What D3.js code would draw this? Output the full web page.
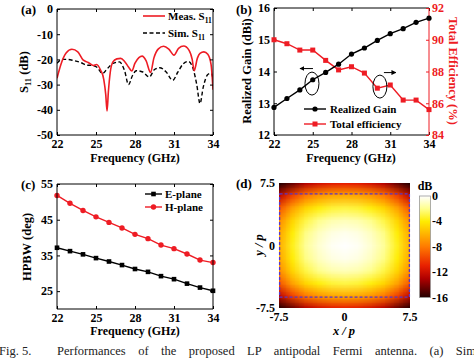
<!DOCTYPE html>
<html><head><meta charset="utf-8">
<script src="https://cdn.jsdelivr.net/npm/d3@7"></script>
<style>body{margin:0;background:#fff}svg{display:block}</style>
</head><body>
<svg id="chart" width="474" height="361"></svg>
<script>
// ---------- DATA ----------
// (a) S11
const measFreq = [22,22.3,22.7,23.15,23.6,24.0,24.4,24.8,25.05,25.35,25.6,25.75,25.85,25.95,26.1,26.3,26.6,26.9,27.2,27.5,27.75,28.0,28.3,28.55,28.85,29.2,29.45,29.8,30.2,30.6,31.0,31.35,31.75,32.15,32.4,32.55,32.8,33.0,33.3,33.6,33.85,34];
const measS11 = [-27.5,-22,-17.5,-16,-17,-20.2,-21.2,-22.4,-22,-24.2,-28,-34,-40.5,-33,-25,-21,-19.8,-19.6,-20.8,-23,-24.6,-21.5,-19.3,-18.7,-20.5,-25.2,-19.5,-15.8,-14.8,-15.9,-18.3,-15.6,-14.7,-16.3,-20,-24.5,-19.5,-17.6,-17,-18,-22,-32];
const simFreq = [22,22.4,22.8,23.3,23.8,24.3,24.7,25.1,25.5,25.9,26.3,26.8,27.2,27.5,27.8,28.1,28.6,29.1,29.5,29.9,30.4,30.9,31.3,31.7,32.1,32.5,32.75,33.0,33.25,33.6,33.85,34];
const simS11 = [-21.5,-20,-20,-20.5,-21.2,-22.3,-22.4,-23.2,-25.6,-23.5,-21.6,-21,-24.5,-30,-26.5,-24.5,-25,-27,-24,-23.3,-25,-28.3,-25,-21.8,-20.8,-24.2,-30,-37.5,-31,-26,-25.5,-27.5];
const freqTicks = [22,25,28,31,34];
const s11Ticks = [0,-10,-20,-30,-40,-50];
// (b) gain / efficiency
const freqPts = [22,23,24,25,26,27,28,29,30,31,32,33,34];
const gainVals = [12.87,13.15,13.42,13.74,13.97,14.23,14.55,14.74,14.98,15.19,15.35,15.55,15.68];
const effVals = [90.0,89.75,89.35,89.35,88.7,88.1,88.3,87.9,86.95,87.15,86.2,86.2,85.6];
const gainTicks = [12,13,14,15,16];
const effTicks = [84,86,88,90,92];
// (c) HPBW
const ePlane = [37.15,36.2,35.3,34.25,33.3,32.3,31.2,30.4,29.2,28.35,27.1,26.0,25.1];
const hPlane = [51.8,49.6,47.6,45.8,44.25,42.7,40.9,39.7,37.9,36.9,35.4,33.7,33.0];
const hpbwTicks = [25,35,45,55];
// (d) aperture field (dB), rows y/p = 7.5 .. -7.5, cols x/p = -7.5 .. 7.5
const gridCoords = [-7.5,-6,-4.5,-3,-1.5,0,1.5,3,4.5,6,7.5];
const fieldDb = [
 [-16,-14.5,-12.8,-11.8,-11.2,-11,-11.2,-11.8,-12.8,-14.5,-16],
 [-12.5,-9.8,-8,-7,-6.4,-6.2,-6.4,-7,-8,-9.8,-12.5],
 [-9.2,-6.6,-4.8,-3.8,-3.2,-3,-3.2,-3.8,-4.8,-6.6,-9.2],
 [-7.4,-4.8,-3,-2,-1.4,-1.2,-1.4,-2,-3,-4.8,-7.4],
 [-6.5,-3.9,-2.1,-1.1,-0.5,-0.3,-0.5,-1.1,-2.1,-3.9,-6.5],
 [-6.2,-3.6,-1.8,-0.8,-0.2,0,-0.2,-0.8,-1.8,-3.6,-6.2],
 [-6.5,-3.9,-2.1,-1.1,-0.5,-0.3,-0.5,-1.1,-2.1,-3.9,-6.5],
 [-7.4,-4.8,-3,-2,-1.4,-1.2,-1.4,-2,-3,-4.8,-7.4],
 [-9.2,-6.6,-4.8,-3.8,-3.2,-3,-3.2,-3.8,-4.8,-6.6,-9.2],
 [-12.5,-9.8,-8,-7,-6.4,-6.2,-6.4,-7,-8,-9.8,-12.5],
 [-16,-14.5,-12.8,-11.8,-11.2,-11,-11.2,-11.8,-12.8,-14.5,-16]
];
const apertureTicks = [-7.5,0,7.5];
const dashedBoxY = [-6.2,6.2];
const colorbarTicks = [0,-4,-8,-12,-16];
const captionLead = "Fig. 5.";
const captionText = "Performances of the proposed LP antipodal Fermi antenna. (a) Sim";

// ---------- STYLE ----------
const FONT = "'Liberation Serif','Times New Roman',serif";
const RED = "#ee1c24";
const svg = d3.select("#chart").style("font-family", FONT);
const fmt = d => String(d);

function styleAxis(g, color, size) {
  g.select(".domain").remove();
  g.selectAll("text").attr("font-family", FONT).attr("font-weight", "bold")
    .attr("font-size", size || 12).attr("fill", color || "#000");
  g.selectAll("line").attr("stroke", color || "#000");
  g.attr("font-family", null).attr("font-size", null);
}
function boxAxes(x, y, xt, yt, opt = {}) {
  const [x0, x1] = x.range(), [y0, y1] = y.range(); // y0 bottom, y1 top
  svg.append("g").attr("transform", `translate(0,${y0})`)
    .call(d3.axisBottom(x).tickValues(xt).tickFormat(fmt).tickSize(-3).tickPadding(4))
    .call(g => styleAxis(g));
  svg.append("g").attr("transform", `translate(0,${y1})`)
    .call(d3.axisTop(x).tickValues(xt).tickSize(-3).tickFormat(""))
    .call(g => styleAxis(g));
  svg.append("g").attr("transform", `translate(${x0},0)`)
    .call(d3.axisLeft(y).tickValues(yt).tickFormat(fmt).tickSize(-3).tickPadding(4))
    .call(g => styleAxis(g));
  if (!opt.noRight) {
    svg.append("g").attr("transform", `translate(${x1},0)`)
      .call(d3.axisRight(y).tickValues(yt).tickSize(-3).tickFormat(""))
      .call(g => styleAxis(g));
  }
  svg.append("path").attr("fill", "none").attr("stroke", "#000").attr("stroke-width", 1)
    .attr("d", `M${x1},${y1}H${x0}V${y0}H${x1}` + (opt.noRight ? "" : `V${y1}`));
}
function text(x, y, s, o = {}) {
  const t = svg.append("text").attr("x", x).attr("y", y).text(s)
    .attr("font-weight", o.weight || "bold").attr("font-size", o.size || 12.5)
    .attr("text-anchor", o.anchor || "start").attr("fill", o.fill || "#000");
  if (o.rotate) t.attr("transform", `rotate(${o.rotate},${x},${y})`);
  if (o.italic) t.attr("font-style", "italic");
  return t;
}

// ---------- (a) ----------
const xA = d3.scaleLinear([22, 34], [57, 213]);
const yA = d3.scaleLinear([-50, 0], [135, 9]);
svg.append("clipPath").attr("id", "clipA").append("rect")
  .attr("x", 57).attr("y", 9).attr("width", 156).attr("height", 126);
const lineA = d3.line().curve(d3.curveMonotoneX).x(d => xA(d[0])).y(d => yA(d[1]));
svg.append("path").attr("clip-path", "url(#clipA)")
  .attr("d", lineA(simFreq.map((f, i) => [f, simS11[i]])))
  .attr("fill", "none").attr("stroke", "#000").attr("stroke-width", 1.4).attr("stroke-dasharray", "4,2.5");
svg.append("path").attr("clip-path", "url(#clipA)")
  .attr("d", lineA(measFreq.map((f, i) => [f, measS11[i]])))
  .attr("fill", "none").attr("stroke", RED).attr("stroke-width", 1.6);
boxAxes(xA, yA, freqTicks, s11Ticks);
text(135, 161.5, "Frequency (GHz)", { anchor: "middle", size: 12 });
{
  const t = text(28, 72, "S", { anchor: "middle", rotate: -90 });
  t.append("tspan").attr("font-size", 8.5).attr("dy", 3).text("11");
  t.append("tspan").attr("dy", -3).text(" (dB)");
}
text(21, 14, "(a)", { size: 13 });
// legend (a)
svg.append("line").attr("x1", 143).attr("x2", 165).attr("y1", 16).attr("y2", 16).attr("stroke", RED).attr("stroke-width", 1.6);
{
  const t = text(168, 20, "Meas. S", { size: 11 });
  t.append("tspan").attr("font-size", 7.5).attr("dy", 2.5).text("11");
}
svg.append("line").attr("x1", 143).attr("x2", 165).attr("y1", 33).attr("y2", 33).attr("stroke", "#000").attr("stroke-width", 1.4).attr("stroke-dasharray", "4,2.5");
{
  const t = text(168, 37, "Sim. S", { size: 11 });
  t.append("tspan").attr("font-size", 7.5).attr("dy", 2.5).text("11");
}

// ---------- (b) ----------
const xB = d3.scaleLinear([22, 34], [274, 429]);
const yBL = d3.scaleLinear([12, 16], [135, 8]);
const yBR = d3.scaleLinear([84, 92], [135, 8]);
boxAxes(xB, yBL, freqTicks, gainTicks, { noRight: true });
svg.append("g").attr("transform", "translate(429,0)")
  .call(d3.axisRight(yBR).tickValues(effTicks).tickFormat(fmt).tickSize(-3).tickPadding(3))
  .call(g => styleAxis(g, RED));
svg.append("line").attr("x1", 429).attr("x2", 429).attr("y1", 8).attr("y2", 135).attr("stroke", RED);
const lineG = d3.line().x((d, i) => xB(freqPts[i])).y(d => yBL(d));
const lineE = d3.line().x((d, i) => xB(freqPts[i])).y(d => yBR(d));
svg.append("path").attr("d", lineE(effVals)).attr("fill", "none").attr("stroke", RED).attr("stroke-width", 1.4);
svg.selectAll(".effm").data(effVals).join("rect").attr("class", "effm")
  .attr("x", (d, i) => xB(freqPts[i]) - 2.5).attr("y", d => yBR(d) - 2.5)
  .attr("width", 5).attr("height", 5).attr("fill", RED);
svg.append("path").attr("d", lineG(gainVals)).attr("fill", "none").attr("stroke", "#000").attr("stroke-width", 1.4);
svg.selectAll(".gm").data(gainVals).join("circle").attr("class", "gm")
  .attr("cx", (d, i) => xB(freqPts[i])).attr("cy", d => yBL(d)).attr("r", 2.6).attr("fill", "#000");
text(351, 161.5, "Frequency (GHz)", { anchor: "middle", size: 12 });
text(251, 71, "Realized Gain (dBi)", { anchor: "middle", rotate: -90 });
text(449, 71, "Total Efficiency (%)", { anchor: "middle", rotate: 90, fill: RED });
text(236, 14, "(b)", { size: 13 });
// annotations
const defs = svg.append("defs");
defs.append("marker").attr("id", "ah").attr("viewBox", "0 0 10 10").attr("refX", 9).attr("refY", 5)
  .attr("markerWidth", 5).attr("markerHeight", 5).attr("orient", "auto")
  .append("path").attr("d", "M0,0L10,5L0,10z").attr("fill", "#000");
const ellL = [24.94, 13.62], ellR = [30.2, 87.05];
svg.append("ellipse").attr("cx", xB(ellL[0])).attr("cy", yBL(ellL[1])).attr("rx", 7).attr("ry", 11.5)
  .attr("fill", "none").attr("stroke", "#000").attr("stroke-width", 1);
svg.append("line").attr("x1", xB(ellL[0]) + 1).attr("y1", yBL(ellL[1]) - 15).attr("x2", xB(ellL[0]) - 12).attr("y2", yBL(ellL[1]) - 15)
  .attr("stroke", "#000").attr("stroke-width", 1).attr("marker-end", "url(#ah)");
svg.append("ellipse").attr("cx", xB(ellR[0])).attr("cy", yBR(ellR[1])).attr("rx", 7).attr("ry", 11.5)
  .attr("fill", "none").attr("stroke", "#000").attr("stroke-width", 1);
svg.append("line").attr("x1", xB(ellR[0]) + 4).attr("y1", yBR(ellR[1]) - 14).attr("x2", xB(ellR[0]) + 16).attr("y2", yBR(ellR[1]) - 14)
  .attr("stroke", "#000").attr("stroke-width", 1).attr("marker-end", "url(#ah)");
// legend (b)
svg.append("line").attr("x1", 304).attr("x2", 326).attr("y1", 109).attr("y2", 109).attr("stroke", "#000").attr("stroke-width", 1.4);
svg.append("circle").attr("cx", 315).attr("cy", 109).attr("r", 2.6).attr("fill", "#000");
text(330, 113, "Realized Gain", { size: 11 });
svg.append("line").attr("x1", 304).attr("x2", 326).attr("y1", 124).attr("y2", 124).attr("stroke", RED).attr("stroke-width", 1.4);
svg.append("rect").attr("x", 312.5).attr("y", 121.5).attr("width", 5).attr("height", 5).attr("fill", RED);
text(330, 128, "Total efficiency", { size: 11 });

// ---------- (c) ----------
const xC = d3.scaleLinear([22, 34], [57, 213]);
const yC = d3.scaleLinear([20, 55], [309, 184]);
const lineC = d3.line().x((d, i) => xC(freqPts[i])).y(d => yC(d));
svg.append("path").attr("d", lineC(ePlane)).attr("fill", "none").attr("stroke", "#000").attr("stroke-width", 1.4);
svg.selectAll(".em").data(ePlane).join("rect").attr("class", "em")
  .attr("x", (d, i) => xC(freqPts[i]) - 2.3).attr("y", d => yC(d) - 2.3).attr("width", 4.6).attr("height", 4.6).attr("fill", "#000");
svg.append("path").attr("d", lineC(hPlane)).attr("fill", "none").attr("stroke", RED).attr("stroke-width", 1.4);
svg.selectAll(".hm").data(hPlane).join("circle").attr("class", "hm")
  .attr("cx", (d, i) => xC(freqPts[i])).attr("cy", d => yC(d)).attr("r", 2.7).attr("fill", RED);
boxAxes(xC, yC, freqTicks, hpbwTicks);
text(135, 335, "Frequency (GHz)", { anchor: "middle", size: 12 });
text(31, 247, "HPBW (deg)", { anchor: "middle", rotate: -90 });
text(21, 189, "(c)", { size: 13 });
svg.append("line").attr("x1", 145).attr("x2", 162).attr("y1", 194).attr("y2", 194).attr("stroke", "#000").attr("stroke-width", 1.4);
svg.append("rect").attr("x", 151.2).attr("y", 191.7).attr("width", 4.6).attr("height", 4.6).attr("fill", "#000");
text(165, 198, "E-plane", { size: 11 });
svg.append("line").attr("x1", 145).attr("x2", 162).attr("y1", 207).attr("y2", 207).attr("stroke", RED).attr("stroke-width", 1.4);
svg.append("circle").attr("cx", 153.5).attr("cy", 207).attr("r", 2.7).attr("fill", RED);
text(165, 211, "H-plane", { size: 11 });

// ---------- (d) ----------
const xD = d3.scaleLinear([-7.5, 7.5], [279, 410]);
const yD = d3.scaleLinear([-7.5, 7.5], [308, 183]);
const color = d3.scaleLinear().domain([-16, -13, -11, -8, -4, -2, 0])
  .range(["#240000", "#b00000", "#e82000", "#ff7a00", "#ffec00", "#ffff8c", "#ffffff"]).clamp(true);
{
  const n = gridCoords.length;
  const cv = document.createElement("canvas"); cv.width = n; cv.height = n;
  const ctx = cv.getContext("2d");
  fieldDb.forEach((row, r) => row.forEach((v, c) => { ctx.fillStyle = color(v); ctx.fillRect(c, r, 1, 1); }));
  const dx = (xD(gridCoords[1]) - xD(gridCoords[0])), dy = (yD(gridCoords[0]) - yD(gridCoords[1]));
  svg.append("clipPath").attr("id", "clipD").append("rect")
    .attr("x", xD(-7.5)).attr("y", yD(7.5)).attr("width", xD(7.5) - xD(-7.5)).attr("height", yD(-7.5) - yD(7.5));
  svg.append("image").attr("clip-path", "url(#clipD)").attr("preserveAspectRatio", "none")
    .attr("x", xD(gridCoords[0]) - dx / 2).attr("y", yD(gridCoords[n - 1]) - dy / 2)
    .attr("width", dx * n).attr("height", dy * n).attr("href", cv.toDataURL());
}
svg.append("rect").attr("x", xD(-7.5) + 0.6).attr("y", yD(dashedBoxY[1])).attr("width", xD(7.5) - xD(-7.5) - 1.2)
  .attr("height", yD(dashedBoxY[0]) - yD(dashedBoxY[1])).attr("fill", "none")
  .attr("stroke", "#5a35c8").attr("stroke-width", 1.3).attr("stroke-dasharray", "3,2");
apertureTicks.forEach(t => {
  text(xD(t), 321, String(t), { size: 12, anchor: "middle" });
  text(275, yD(t) + 4, String(t), { size: 12, anchor: "end" });
});
text(344, 335, "x / p", { anchor: "middle", italic: true });
text(263, 245, "y / p", { anchor: "middle", italic: true, rotate: -90 });
text(236, 188, "(d)", { size: 13 });
// colorbar
{
  const yCb = d3.scaleLinear([-16, 0], [297.5, 196]);
  const grad = defs.append("linearGradient").attr("id", "cbg").attr("x1", 0).attr("x2", 0).attr("y1", 1).attr("y2", 0);
  color.domain().forEach(v => grad.append("stop").attr("offset", (v + 16) / 16).attr("stop-color", color(v)));
  svg.append("rect").attr("x", 419.5).attr("y", 196).attr("width", 11).attr("height", 101.5)
    .attr("fill", "url(#cbg)").attr("stroke", "#999").attr("stroke-width", 0.8);
  colorbarTicks.forEach(t => text(432, yCb(t) + 4, String(t), { size: 12 }));
  text(425, 190, "dB", { size: 12, anchor: "middle" });
}

// ---------- caption ----------
text(-1, 355, captionLead, { weight: "normal", size: 12.5, fill: "#222" });
{
  const t = text(57, 355, captionText, { weight: "normal", size: 12.5, fill: "#222" });
  const w = t.node().getComputedTextLength();
  const spaces = captionText.split(" ").length - 1;
  t.attr("word-spacing", Math.max(0, (419 - w) / spaces));
}
</script>
</body></html>
